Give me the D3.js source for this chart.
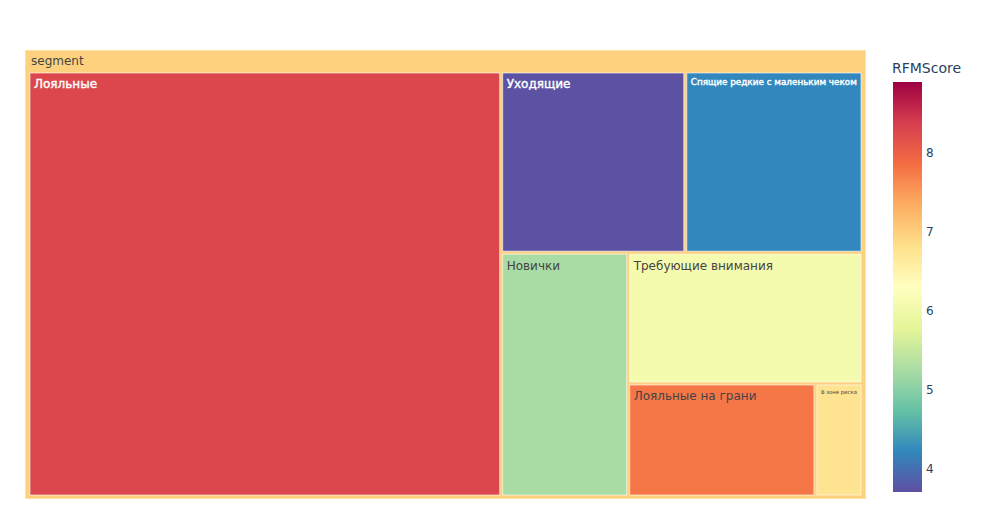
<!DOCTYPE html>
<html>
<head>
<meta charset="utf-8">
<script src="https://cdn.jsdelivr.net/npm/d3@7"></script>
<style>
html,body{margin:0;padding:0;background:#fff;}
svg{display:block;font-family:"DejaVu Sans",Verdana,sans-serif;}
</style>
</head>
<body>
<svg id="chart" width="984" height="525"></svg>
<script>
// ---- data ----
const rootLabel = "segment";
const segments = ["Лояльные","Уходящие","Спящие редкие с маленьким чеком","Новички","Требующие внимания","Лояльные на грани","В зоне риска"];
const counts = [1927, 320, 308, 297, 294, 203, 51];
const rfmScores = [8.28, 3.74, 4.23, 5.25, 6.08, 7.78, 6.77];
const colorRange = [3.71, 8.9];
const colorTicks = [4, 5, 6, 7, 8];
const colorTitle = "RFMScore";
const spectralR = ["rgb(94,79,162)","rgb(50,136,189)","rgb(102,194,165)","rgb(171,221,164)","rgb(230,245,152)","rgb(255,255,191)","rgb(254,224,139)","rgb(253,174,97)","rgb(244,109,67)","rgb(213,62,79)","rgb(158,1,66)"];

const svg = d3.select("#chart");

const color = d3.scaleLinear()
  .domain(spectralR.map((_, i) => colorRange[0] + (colorRange[1] - colorRange[0]) * i / (spectralR.length - 1)))
  .range(spectralR)
  .interpolate(d3.interpolateRgb)
  .clamp(true);

const total = d3.sum(counts);
const rootScore = d3.sum(counts.map((c, i) => c * rfmScores[i])) / total;

const data = {name: rootLabel, score: rootScore,
  children: segments.map((s, i) => ({name: s, value: counts[i], score: rfmScores[i]}))};

const box = {x: 25, y: 50, w: 841, h: 449};

const root = d3.hierarchy(data).sum(d => d.value || 0).sort((a, b) => b.value - a.value);
d3.treemap()
  .tile(d3.treemapSquarify.ratio(1))
  .size([box.w, box.h])
  .paddingTop(23).paddingLeft(5).paddingRight(5).paddingBottom(4)
  .paddingInner(3)(root);

function textColor(c) {
  const r = d3.rgb(c);
  const b = (r.r * 299 + r.g * 587 + r.b * 114) / 1000;
  return b >= 128 ? "#444" : "#fff";
}

const g = svg.append("g").attr("transform", `translate(${box.x},${box.y})`);
const nodes = g.selectAll("g.node").data(root.descendants()).join("g")
  .attr("class", "node")
  .attr("transform", d => `translate(${d.x0},${d.y0})`);

nodes.append("rect")
  .attr("width", d => d.x1 - d.x0)
  .attr("height", d => d.y1 - d.y0)
  .attr("fill", d => color(d.data.score))
  .attr("stroke", "#fff").attr("stroke-opacity", 0.6)
  .attr("stroke-width", 1);

nodes.each(function(d) {
  const sel = d3.select(this);
  const fill = color(d.data.score);
  const tc = textColor(fill);
  const t = sel.append("text")
    .attr("fill", tc)
    .attr("font-size", 12)
    .text(d.data.name);
  if (tc === "#fff") t.attr("stroke", "#fff").attr("stroke-width", 0.4);
  const avail = (d.x1 - d.x0) - 8;
  const w = t.node().getComputedTextLength();
  let fs = 12;
  if (w > avail) fs = 12 * avail / w;
  t.attr("font-size", fs)
   .attr("x", d.depth === 0 ? 6 : 4)
   .attr("y", d.depth === 0 ? 15 : 4 + fs * 0.95);
});

// ---- colorbar ----
const cb = {x: 893, y: 82, w: 29, h: 410};
const defs = svg.append("defs");
const grad = defs.append("linearGradient").attr("id", "cbgrad")
  .attr("x1", 0).attr("y1", 1).attr("x2", 0).attr("y2", 0);
spectralR.forEach((c, i) => grad.append("stop")
  .attr("offset", i / (spectralR.length - 1)).attr("stop-color", c));
svg.append("rect").attr("x", cb.x).attr("y", cb.y).attr("width", cb.w).attr("height", cb.h)
  .attr("fill", "url(#cbgrad)");

const cy = d3.scaleLinear().domain(colorRange).range([cb.y + cb.h, cb.y]);
const axis = d3.axisRight(cy).tickValues(colorTicks).tickSize(0).tickPadding(4).tickFormat(d3.format("d"));
const ag = svg.append("g").attr("transform", `translate(${cb.x + cb.w},0)`).call(axis);
ag.select(".domain").remove();
ag.selectAll("text").attr("font-size", 12).attr("fill", "#2a3f5f")
  .attr("font-family", "DejaVu Sans, Verdana, sans-serif");

svg.append("text").attr("x", cb.x - 1).attr("y", 73)
  .attr("font-size", 14).attr("fill", "#2a3f5f")
  .text(colorTitle);
</script>
</body>
</html>
